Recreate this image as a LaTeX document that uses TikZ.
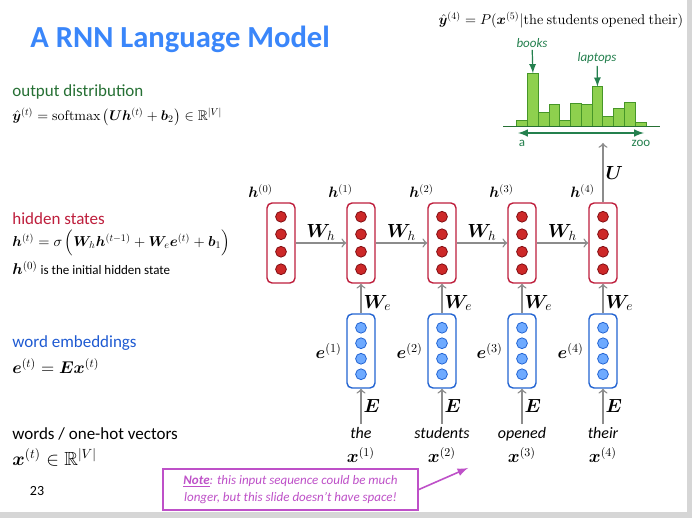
\documentclass[tikz,border=0pt]{standalone}
\usepackage[no-math]{fontspec}
\setmainfont{Carlito}
\usepackage{amsmath,amssymb,bm}
% scalable math fonts (10pt design at every size)
\DeclareFontShape{OML}{cmm}{m}{it}{<->cmmi10}{}
\DeclareFontShape{OML}{cmm}{b}{it}{<->cmmib10}{}
\DeclareFontShape{OT1}{cmr}{m}{n}{<->cmr10}{}
\DeclareFontShape{OT1}{cmr}{bx}{n}{<->cmbx10}{}
\DeclareFontShape{OMS}{cmsy}{m}{n}{<->cmsy10}{}
\DeclareFontShape{OMS}{cmsy}{b}{n}{<->cmbsy10}{}
\DeclareFontShape{OMX}{cmex}{m}{n}{<->cmex10}{}
\DeclareFontFamily{U}{msb}{}
\DeclareFontShape{U}{msb}{m}{n}{<->msbm10}{}
\usetikzlibrary{positioning}
\definecolor{titleblue}{RGB}{58,134,250}
\definecolor{outgreen}{RGB}{38,112,52}
\definecolor{histgreen}{RGB}{36,128,78}
\definecolor{barfill}{RGB}{142,208,78}
\definecolor{barline}{RGB}{70,150,40}
\definecolor{hidred}{RGB}{190,30,60}
\definecolor{dotred}{RGB}{205,40,40}
\definecolor{dotredline}{RGB}{130,15,20}
\definecolor{embblue}{RGB}{35,100,210}
\definecolor{dotblue}{RGB}{110,170,255}
\definecolor{wordblue}{RGB}{30,90,210}
\definecolor{notepurple}{RGB}{190,80,200}
\definecolor{arrowgrey}{RGB}{140,140,140}
\definecolor{slidegrey}{RGB}{214,214,214}

\begin{document}
\begin{tikzpicture}[x=0.5pt,y=-0.5pt,
		hbox/.style={draw=hidred, line width=0.7pt, rounded corners=2.5pt, fill=white, minimum width=14pt, minimum height=40pt},
		ebox/.style={draw=embblue, line width=0.7pt, rounded corners=2.5pt, fill=white, minimum width=14pt, minimum height=37pt},
		hdot/.style={circle, fill=dotred, draw=dotredline, line width=0.4pt, minimum size=5.4pt, inner sep=0pt},
		edot/.style={circle, fill=dotblue, draw=embblue, line width=0.4pt, minimum size=5.4pt, inner sep=0pt},
		conn/.style={draw=arrowgrey, line width=0.7pt, ->},
		vlab/.style={font=\fontsize{8.7}{10}\selectfont, inner sep=1pt},
		wlab/.style={font=\fontsize{9.5}{11}\selectfont, inner sep=1pt},
		txt/.style={font=\fontsize{8.5}{10}\selectfont, anchor=west, inner sep=0pt},
		eq/.style={font=\fontsize{7}{8}\selectfont, anchor=west, inner sep=0pt},
		word/.style={font=\fontsize{8}{9.6}\selectfont\itshape, inner sep=1pt, text height=6pt, text depth=1.5pt},
		histlab/.style={font=\fontsize{6.5}{8}\selectfont, text=histgreen, inner sep=1pt},
		bar/.style={fill=barfill, draw=barline, line width=0.5pt}
	]
		\useasboundingbox (0,0) rectangle (692,518);
		% Slide
		\fill[slidegrey] (0,0) rectangle (692,518);
		\fill[white] (0,0) rectangle (687,512);
		% Title
		\node[anchor=west, inner sep=0pt, text=titleblue, font=\fontsize{15.3}{18}\selectfont\bfseries] (title) at (30,39) {A RNN Language Model};
		% Left column
		\node[txt, text=outgreen] (outlab) at (12,92) {output distribution};
		\node[eq] (outeq) at (12,117) {$\hat{\bm{y}}^{(t)} = \mathrm{softmax}\,\bigl(\bm{U}\bm{h}^{(t)} + \bm{b}_2\bigr) \in \mathbb{R}^{|V|}$};
		\node[txt, text=hidred] (hidlab) at (12,219) {hidden states};
		\node[eq, font=\fontsize{7.2}{9}\selectfont] (hideq) at (12,243) {$\bm{h}^{(t)} = \sigma\,\Bigl(\bm{W}_h\bm{h}^{(t-1)} + \bm{W}_e\bm{e}^{(t)} + \bm{b}_1\Bigr)$};
		\node[txt, font=\fontsize{6.5}{8}\selectfont] (hinit) at (12,268) {{\fontsize{7.8}{9}\selectfont$\bm{h}^{(0)}$} is the initial hidden state};
		\node[txt, text=wordblue] (emblab) at (12,343) {word embeddings};
		\node[eq, font=\fontsize{8.5}{10}\selectfont] (embeq) at (12,366) {$\bm{e}^{(t)} = \bm{E}\bm{x}^{(t)}$};
		\node[txt] (wordlab) at (12,434) {words / one-hot vectors};
		\node[eq, font=\fontsize{9.5}{11}\selectfont] (wordeq) at (12,457) {$\bm{x}^{(t)} \in \mathbb{R}^{|V|}$};
		\node[font=\fontsize{7}{8}\selectfont] (page) at (37,491) {23};
		% Hidden states
		\foreach \i/\x in {0/281,1/361,2/442,3/522,4/603}{
			\node[hbox] (h\i) at (\x,243) {};
			\foreach \k [count=\j] in {-1.5,-0.5,0.5,1.5}
				\node[hdot] (h\i-\j) at (\x,{243+17.5*\k}) {};
			\node[vlab, font=\fontsize{7.5}{9}\selectfont, anchor=south east] (hl\i) at ([xshift=4.5pt,yshift=1pt]h\i.north west) {$\bm{h}^{(\i)}$};
		}
		\foreach \i/\n in {0/1,1/2,2/3,3/4}
			\draw[conn] (h\i) -- (h\n) node[wlab, above, midway] {$\bm{W}_h$};
		% Embeddings and words
		\foreach \i/\x/\w in {1/361/the,2/442/students,3/522/opened,4/603/their}{
			\node[ebox] (e\i) at (\x,351) {};
			\foreach \k [count=\j] in {-1.5,-0.5,0.5,1.5}
				\node[edot] (e\i-\j) at (\x,{351+15.5*\k}) {};
			\node[vlab, left=1pt of e\i] (el\i) {$\bm{e}^{(\i)}$};
			\node[word] (w\i) at (\x,434) {\w};
			\node[vlab, font=\fontsize{9}{10}\selectfont] (x\i) at (\x,455) {$\bm{x}^{(\i)}$};
			\draw[conn] (w\i.north) -- (e\i.south) node[wlab, right, midway] {$\bm{E}$};
			\draw[conn] (e\i.north) -- (h\i.south) node[wlab, right, pos=0.35] {$\bm{W}_e$};
		}
		% Output distribution
		\coordinate (ytop) at (603,143);
		\draw[conn] (h4.north) -- (ytop) node[wlab, right, midway] {$\bm{U}$};
		\node[eq, font=\fontsize{7.1}{8}\selectfont, anchor=center] (ptop) at (561,20) {$\hat{\bm{y}}^{(4)} = P(\bm{x}^{(5)}|\mathrm{the\ students\ opened\ their})$};
		\foreach \hgt [count=\i from 0] in {6.4,53.4,13.7,22,6.4,23.4,22,40,10,18,24.4,4.4}
			\draw[bar] ({516.7+10.78*\i},126.7) rectangle ++(10.78,-\hgt);
		\coordinate (base0) at (503,126.7);
		\coordinate (base1) at (660,126.7);
		\draw[outgreen, line width=0.7pt] (base0) -- (base1);
		\coordinate (va) at (518,133);
		\coordinate (vz) at (644,133);
		\draw[histgreen, line width=0.7pt, latex-latex] (va) -- (vz);
		\node[histlab] (la) at (522,143) {a};
		\node[histlab] (lz) at (641,143) {zoo};
		\node[histlab, font=\fontsize{6.5}{8}\selectfont\itshape] (books) at (532,43) {books};
		\node[histlab, font=\fontsize{6.5}{8}\selectfont\itshape] (laptops) at (597,58) {laptops};
		\coordinate (bk) at (532.9,73.3);
		\coordinate (lp) at (597.5,86.7);
		\draw[histgreen, line width=0.6pt, -latex] (books) -- (bk);
		\draw[histgreen, line width=0.6pt, -latex] (laptops) -- (lp);
		% Note
		\node[draw=notepurple, line width=0.9pt, text=notepurple, minimum width=127.5pt, minimum height=20.5pt, align=center, inner sep=1pt, font=\fontsize{6.5}{8.4}\selectfont\itshape] (note) at (290.5,489.5) {\underline{\textbf{Note}}: this input sequence could be much\\longer, but this slide doesn’t have space!};
		\coordinate (notetip) at (468,468);
		\draw[notepurple, line width=0.8pt, -latex] (note.east) -- (notetip);
	\end{tikzpicture}
\end{document}
